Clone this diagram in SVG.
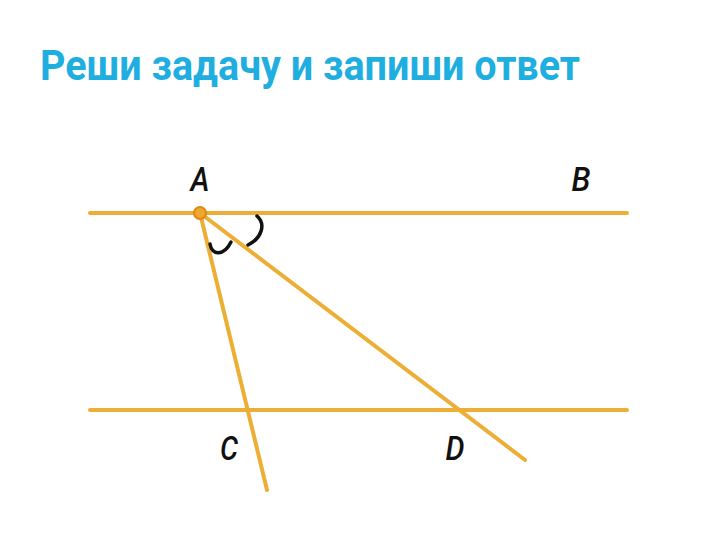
<svg xmlns="http://www.w3.org/2000/svg" width="720" height="545" viewBox="0 0 720 545">
<style>
.title{font-family:Roboto,"Liberation Sans",sans-serif;font-weight:700;font-size:43px;fill:#1FAEE0}
.lbl{font-family:Roboto,"Liberation Sans",sans-serif;font-style:italic;font-weight:500;font-size:33px;fill:#111}
.ln{stroke:#EDAE35;stroke-width:4;stroke-linecap:round;fill:none}
.arc{stroke:#111;stroke-width:3.5;fill:none;stroke-linecap:round}
</style>
<rect width="720" height="545" fill="#fff"/>
<text class="title" x="40" y="80" textLength="540" lengthAdjust="spacingAndGlyphs">Реши задачу и запиши ответ</text>
<g id="connectors">
<line class="ln" x1="90" y1="213" x2="627" y2="213"/>
<line class="ln" x1="90" y1="410" x2="627" y2="410"/>
<line class="ln" x1="200" y1="213" x2="267" y2="490"/>
<line class="ln" x1="200" y1="213" x2="525" y2="460"/>
</g>
<g id="angles">
<path class="arc" d="M210,244 C212,256 224,256 231,242"/>
<path class="arc" d="M257,216 C266,224 262,238 248,245"/>
</g>
<g id="A">
<circle cx="200" cy="213" r="6" fill="#F2A530" stroke="#D98B12" stroke-width="2"/>
<text class="lbl" x="200" y="191" text-anchor="middle" textLength="19" lengthAdjust="spacingAndGlyphs">A</text>
</g>
<g id="B"><text class="lbl" x="581" y="191" text-anchor="middle" textLength="19" lengthAdjust="spacingAndGlyphs">B</text></g>
<g id="C"><text class="lbl" x="229" y="460" text-anchor="middle" textLength="18" lengthAdjust="spacingAndGlyphs">C</text></g>
<g id="D"><text class="lbl" x="455" y="460" text-anchor="middle" textLength="19" lengthAdjust="spacingAndGlyphs">D</text></g>
</svg>
